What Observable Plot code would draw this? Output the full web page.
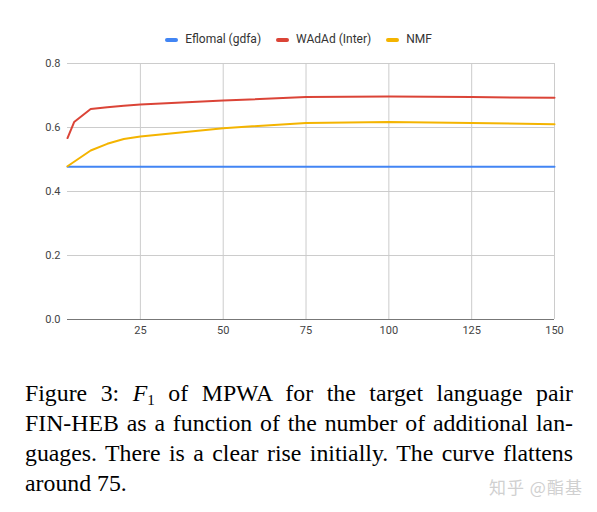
<!DOCTYPE html>
<html>
<head>
<meta charset="utf-8">
<script src="https://cdn.jsdelivr.net/npm/d3@7"></script>
<script src="https://cdn.jsdelivr.net/npm/@observablehq/plot@0.6"></script>
<style>
  body { margin: 0; background: #fff; }
  #wrap { position: relative; width: 597px; height: 512px; }
  #legend { height: 50px; display: flex; justify-content: center; align-items: center; padding-top: 28px; box-sizing: border-box;
    font: 12px Roboto, "Liberation Sans", sans-serif; color: #333; gap: 15px; padding-left: 0px; }
  #legend span.sw { display: inline-block; width: 13px; height: 4px; border-radius: 2px; margin-right: 7px; vertical-align: middle; }
  #caption { position: absolute; left: 25px; top: 378px; width: 548px;
    font: 23.8px "Liberation Serif", "DejaVu Serif", serif; line-height: 30px; color: #000; }
  #caption div { text-align: justify; text-align-last: justify; white-space: nowrap; }
  #caption div.last { text-align-last: left; }
  #caption sub { font-size: 15px; line-height: 0; vertical-align: -4px; }
  #mark { position: absolute; left: 489px; top: 474px; font: 17px "Noto Sans CJK SC", sans-serif; color: #d0d0d0; letter-spacing: 1px; }
</style>
</head>
<body>
<div id="wrap">
  <div id="legend"></div>
  <div id="chart"></div>
  <div id="caption">
    <div>Figure 3: <i>F</i><sub>1</sub> of MPWA for the target language pair</div>
    <div>FIN-HEB as a function of the number of additional lan-</div>
    <div>guages. There is a clear rise initially. The curve flattens</div>
    <div class="last">around 75.</div>
  </div>
  <div id="mark">知乎 @酯基</div>
</div>
<script>
// number of additional languages
const languages = [3, 5, 10, 15, 20, 25, 50, 75, 100, 125, 150];
const eflomal = [0.477, 0.477, 0.477, 0.477, 0.477, 0.477, 0.477, 0.477, 0.477, 0.477, 0.477];
const wadad = [0.567, 0.617, 0.658, 0.663, 0.668, 0.672, 0.684, 0.695, 0.697, 0.695, 0.693];
const nmf = [0.479, 0.493, 0.528, 0.549, 0.564, 0.572, 0.598, 0.614, 0.617, 0.614, 0.610];

const seriesNames = ["Eflomal (gdfa)", "WAdAd (Inter)", "NMF"];
const seriesColors = ["#4285f4", "#db4437", "#f4b400"];
const xTicks = [25, 50, 75, 100, 125, 150];
const yTicks = [0, 0.2, 0.4, 0.6, 0.8];

let rows = [];
[eflomal, wadad, nmf].forEach((vals, i) => {
  vals.forEach((v, j) => rows.push({x: languages[j], y: v, serie: seriesNames[i]}));
});

// legend like google sheets
let legend = d3.select("#legend");
seriesNames.forEach((n, i) => {
  let item = legend.append("div");
  item.append("span").attr("class", "sw").style("background", seriesColors[i]);
  item.append("span").text(n);
});

let chart = Plot.plot({
  width: 597,
  height: 295,
  marginTop: 13,
  marginLeft: 67,
  marginRight: 43,
  marginBottom: 26,
  style: {fontFamily: "Roboto, 'Liberation Sans', sans-serif", fontSize: "11px", color: "#444"},
  x: {domain: [3, 150], ticks: xTicks, tickSize: 0, tickPadding: 7, label: null},
  y: {domain: [0, 0.8], ticks: yTicks, tickFormat: ".1f", tickSize: 0, tickPadding: 7, label: null},
  color: {domain: seriesNames, range: seriesColors},
  marks: [
    Plot.gridY(yTicks.filter(d => d > 0), {stroke: "#ccc", strokeOpacity: 1}),
    Plot.gridX(xTicks, {stroke: "#ccc", strokeOpacity: 1}),
    Plot.ruleY([0], {stroke: "#777", strokeWidth: 1.2}),
    Plot.line(rows, {x: "x", y: "y", z: "serie", stroke: "serie", strokeWidth: 2})
  ]
});

d3.select("#chart").append(() => chart);
</script>
</body>
</html>
